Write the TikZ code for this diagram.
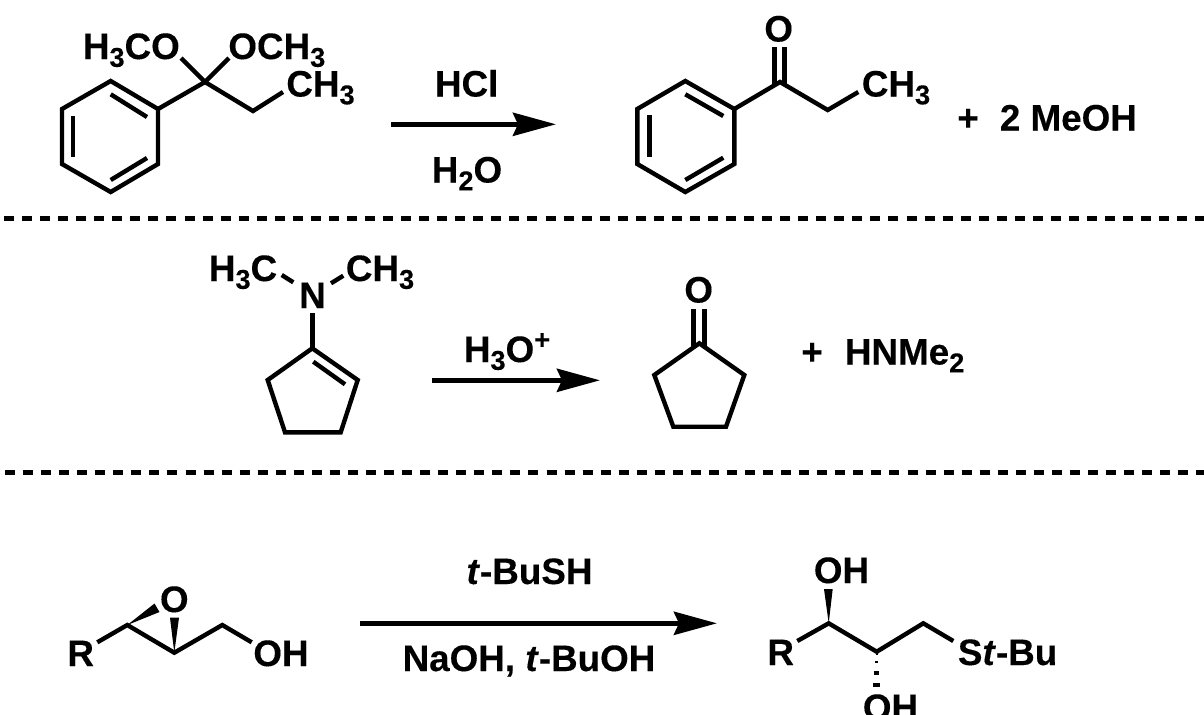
\documentclass[tikz,border=0pt]{standalone}
\usepackage{fontspec}
\setmainfont{Liberation Sans}[BoldFeatures={FakeBold=0.25},BoldItalicFeatures={FakeBold=0.25}]
\usetikzlibrary{arrows.meta}
\newcommand\dn[1]{\raisebox{-3.9pt}{\fontsize{13.6}{13.6}\selectfont #1}}
\newcommand\up[1]{\raisebox{6.5pt}{\fontsize{13.6}{13.6}\selectfont #1}}
\tikzset{
  lab/.style={inner sep=0pt,anchor=base west,font=\fontsize{18.4}{20}\selectfont\bfseries},
  labc/.style={lab,anchor=base},
  bond/.style={line width=2.2pt,line join=miter,line cap=butt},
  rxn/.style={line width=2.5pt,-{Stealth[length=21.5pt,width=11.5pt,inset=2.5pt]}},
  sep/.style={line width=2.5pt,dash pattern=on 5pt off 4.025pt},
  wedge/.style={fill=black},
}
\begin{document}
\begin{tikzpicture}[x=0.5pt,y=-0.5pt]
\useasboundingbox (0,0) rectangle (1204,714);
\clip (0,0) rectangle (1204,714);
% separators
\coordinate (s1a) at (4,218.3); \coordinate (s1b) at (1216,218.3);
\coordinate (s2a) at (5,472.2); \coordinate (s2b) at (1216,472.2);
\draw[sep] (s1a) -- (s1b);
\draw[sep] (s2a) -- (s2b);
% arrows
\coordinate (r1a) at (391,124.3); \coordinate (r1b) at (556,124.3);
\coordinate (r2a) at (432,380.3); \coordinate (r2b) at (600,380.3);
\coordinate (r3a) at (360,623.3); \coordinate (r3b) at (717,623.3);
\draw[rxn] (r1a) -- (r1b);
\draw[rxn] (r2a) -- (r2b);
\draw[rxn] (r3a) -- (r3b);
% reagents
\node[labc] (hcl) at (466.7,96.5) {HCl};
\node[labc] (hho) at (467,182.5) {H\dn{2}O};
\node[lab] (hhho) at (463.5,362) {H\dn{3}O\up{+}};
\node[labc] (tbsh) at (529.5,584) {\textit{t}-BuSH};
\node[labc] (naoh) at (529,671) {NaOH, \textit{t}-BuOH};
% reaction 1 reactant
\coordinate (a1) at (110.7,81); \coordinate (a2) at (158,109); \coordinate (a3) at (158,164);
\coordinate (a4) at (110.7,192); \coordinate (a5) at (62,164); \coordinate (a6) at (62,109);
\coordinate (a7) at (205,82); \coordinate (a8) at (253,111);
\coordinate (a9) at (283,92); \coordinate (a10) at (181,58); \coordinate (a11) at (229,58);
\node[lab] (mo1) at (82.5,59) {H\dn{3}CO};
\node[lab] (mo2) at (228,59) {OCH\dn{3}};
\node[lab] (et1) at (286,96.5) {CH\dn{3}};
\draw[bond] (a1) -- (a2) -- (a3) -- (a4) -- (a5) -- (a6) -- cycle;
\draw[bond] (a2) -- (a7) -- (a8) -- (a9);
\draw[bond] (a10) -- (a7) -- (a11);
\coordinate (i1) at (110.7,94.3); \coordinate (i2) at (147,117);
\coordinate (i3) at (73,116); \coordinate (i4) at (73,157);
\coordinate (i5) at (147,158); \coordinate (i6) at (110.7,180);
\draw[bond] (i1) -- (i2); \draw[bond] (i3) -- (i4); \draw[bond] (i5) -- (i6);
% reaction 1 product
\coordinate (b1) at (685.3,81); \coordinate (b2) at (734.3,109); \coordinate (b3) at (734.3,164);
\coordinate (b4) at (685.3,192); \coordinate (b5) at (637.3,164); \coordinate (b6) at (637.3,109);
\coordinate (b7) at (780,82); \coordinate (b8) at (827.7,110); \coordinate (b9) at (858.3,92);
\node[labc] (bo) at (778.7,41.5) {O};
\node[lab] (bme) at (861.5,96.5) {CH\dn{3}};
\draw[bond] (b1) -- (b2) -- (b3) -- (b4) -- (b5) -- (b6) -- cycle;
\draw[bond] (b2) -- (b7) -- (b8) -- (b9);
\coordinate (j1) at (685.3,94.3); \coordinate (j2) at (723.3,116);
\coordinate (j3) at (649.3,115); \coordinate (j4) at (649.3,157.3);
\coordinate (j5) at (723.3,157.7); \coordinate (j6) at (685.3,180);
\draw[bond] (j1) -- (j2); \draw[bond] (j3) -- (j4); \draw[bond] (j5) -- (j6);
\coordinate (k1) at (774.3,47); \coordinate (k2) at (774.3,85);
\coordinate (k3) at (784.3,47); \coordinate (k4) at (784.3,85);
\draw[bond] (k1) -- (k2); \draw[bond] (k3) -- (k4);
\node[lab] (pl1) at (957,130.5) {+};
\node[lab] (meoh) at (999.5,130.5) {2 MeOH};
% reaction 2 enamine
\node[labc] (en) at (312.5,308) {N};
\node[lab] (hc) at (208.5,281) {H\dn{3}C};
\node[lab] (ch) at (345.5,281) {CH\dn{3}};
\coordinate (c1) at (281.7,275); \coordinate (c2) at (293.3,282.3);
\coordinate (c3) at (331,283.3); \coordinate (c4) at (343.3,275.7);
\coordinate (c5) at (312.3,313.3);
\coordinate (e1) at (312.3,348.3); \coordinate (e2) at (357.7,380); \coordinate (e3) at (340.7,432.3);
\coordinate (e4) at (285,432.3); \coordinate (e5) at (267.7,380);
\coordinate (e6) at (313.3,361.7); \coordinate (e7) at (345,384.3);
\draw[bond] (c1) -- (c2); \draw[bond] (c3) -- (c4); \draw[bond] (c5) -- (e1);
\draw[bond] (e1) -- (e2) -- (e3) -- (e4) -- (e5) -- cycle;
\draw[bond] (e6) -- (e7);
% cyclopentanone
\coordinate (f1) at (699.3,343.3); \coordinate (f2) at (744.3,375); \coordinate (f3) at (726,426.7);
\coordinate (f4) at (673.3,426.7); \coordinate (f5) at (654.3,375);
\draw[bond] (f1) -- (f2) -- (f3) -- (f4) -- (f5) -- cycle;
\coordinate (g1) at (693.3,309.3); \coordinate (g2) at (693.3,346);
\coordinate (g3) at (704.3,309.3); \coordinate (g4) at (704.3,346);
\draw[bond] (g1) -- (g2); \draw[bond] (g3) -- (g4);
\node[labc] (fo) at (698.7,302.5) {O};
\node[lab] (pl2) at (801,364.5) {+};
\node[lab] (hnme) at (844.5,364.5) {HNMe\dn{2}};
% epoxide
\node[lab] (r1) at (67,666) {R};
\node[lab] (oh1) at (253,666) {OH};
\node[labc] (eo) at (174.3,612) {O};
\coordinate (h0) at (97.3,642.3); \coordinate (h1) at (127.3,625); \coordinate (h2) at (174.3,652.7);
\coordinate (h3) at (222.3,625); \coordinate (h4) at (251.7,642.3);
\draw[bond] (h0) -- (h1) -- (h2) -- (h3) -- (h4);
\coordinate (w1) at (154.5,603.5); \coordinate (w2) at (159.5,612);
\coordinate (w3) at (170,617.7); \coordinate (w4) at (179,617.7);
\fill[wedge] (h1) -- (w1) -- (w2) -- cycle;
\fill[wedge] (h2) -- (w3) -- (w4) -- cycle;
% diol
\node[lab] (r2) at (767,665) {R};
\node[lab] (oh2) at (813.5,583) {OH};
\node[lab] (oh3) at (862.5,720) {OH};
\node[lab] (st) at (957.5,665) {S\textit{t}-Bu};
\coordinate (m0) at (797.3,641); \coordinate (m1) at (828.7,623.3); \coordinate (m2) at (876.7,651.7);
\coordinate (m3) at (923.3,623.3); \coordinate (m4) at (953.3,641);
\draw[bond] (m0) -- (m1) -- (m2) -- (m3) -- (m4);
\coordinate (n1) at (824,589); \coordinate (n2) at (832.7,589);
\fill[wedge] (m1) -- (n1) -- (n2) -- cycle;
\fill[wedge] (875.7,652.5) rectangle (877.7,654.5);
\fill[wedge] (875,660.5) rectangle (878.4,662.7);
\fill[wedge] (874.2,671) rectangle (879.2,675);
\fill[wedge] (873,682.7) rectangle (880.4,686.7);
\end{tikzpicture}
\end{document}
